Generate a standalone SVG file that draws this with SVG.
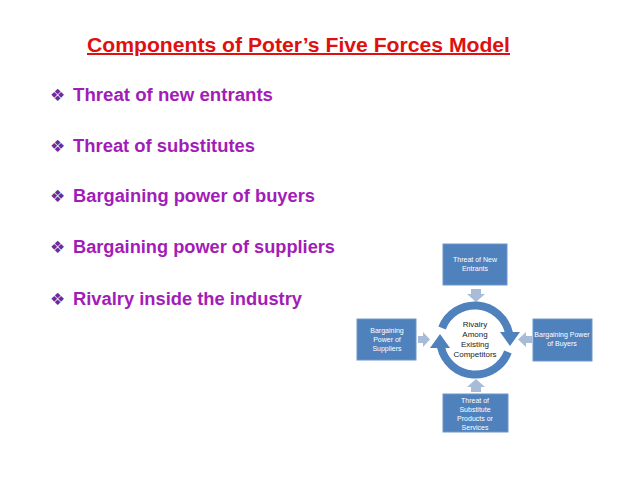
<svg xmlns="http://www.w3.org/2000/svg" width="638" height="478" viewBox="0 0 638 478">
<style>
.b{font-family:"Liberation Sans",Arial,sans-serif;font-weight:bold;font-size:18px;fill:#A21CB8}
.d{font-family:"DejaVu Sans",sans-serif;font-size:17px;fill:#6A2C9C}
.box{fill:#4F81BD;stroke:#6F95C8;stroke-width:1}
.bt{font-family:"Liberation Sans",Arial,sans-serif;font-size:7px;fill:#fff;text-anchor:middle}
.sa{fill:#A8BCD8}
.ct{font-family:"Liberation Sans",Arial,sans-serif;font-size:8px;fill:#222;text-anchor:middle}
</style>
<rect width="638" height="478" fill="#fff"/>
<text x="87" y="52" textLength="423" lengthAdjust="spacingAndGlyphs" font-family="Liberation Sans,Arial,sans-serif" font-weight="bold" font-size="20" fill="#E01010" text-decoration="underline">Components of Poter’s Five Forces Model</text>
<g id="list">
<text class="d" x="50" y="101">❖</text><text class="b" x="73" y="101" textLength="200" lengthAdjust="spacingAndGlyphs">Threat of new entrants</text>
<text class="d" x="50" y="152">❖</text><text class="b" x="73" y="152" textLength="182" lengthAdjust="spacingAndGlyphs">Threat of substitutes</text>
<text class="d" x="50" y="202">❖</text><text class="b" x="73" y="202" textLength="242" lengthAdjust="spacingAndGlyphs">Bargaining power of buyers</text>
<text class="d" x="50" y="253">❖</text><text class="b" x="73" y="253" textLength="262" lengthAdjust="spacingAndGlyphs">Bargaining power of suppliers</text>
<text class="d" x="50" y="305">❖</text><text class="b" x="73" y="305" textLength="229" lengthAdjust="spacingAndGlyphs">Rivalry inside the industry</text>
</g>
<g id="top"><rect class="box" x="443" y="244" width="64" height="41"/><text class="bt" x="475" y="262">Threat of New</text><text class="bt" x="475" y="271">Entrants</text></g>
<g id="left"><rect class="box" x="357" y="319" width="59" height="41"/><text class="bt" x="387" y="333">Bargaining</text><text class="bt" x="387" y="342">Power of</text><text class="bt" x="387" y="351">Suppliers</text></g>
<g id="right"><rect class="box" x="533" y="319" width="59" height="42"/><text class="bt" x="562" y="337">Bargaining Power</text><text class="bt" x="562" y="346">of Buyers</text></g>
<g id="bottom"><rect class="box" x="443" y="394" width="65" height="38"/><text class="bt" x="475" y="403">Threat of</text><text class="bt" x="475" y="412">Substitute</text><text class="bt" x="475" y="421">Products or</text><text class="bt" x="475" y="430">Services</text></g>
<g id="center"><text class="ct" x="475" y="327">Rivalry</text><text class="ct" x="475" y="337">Among</text><text class="ct" x="475" y="347">Existing</text><text class="ct" x="475" y="357">Competitors</text></g>
<g id="connectors">
<polygon class="sa" points="471,289 481,289 481,294 485,294 476,302 467,294 471,294"/>
<polygon class="sa" points="418,336 423,336 423,332 430,339.5 423,347 423,343 418,343"/>
<polygon class="sa" points="532,336 526,336 526,332 518,339.5 526,347 526,343 532,343"/>
<polygon class="sa" points="471,392 481,392 481,387 485,387 476,379 467,387 471,387"/>
<path d="M442.1,328 A35 35 0 0 1 509,333" fill="none" stroke="#4F81BD" stroke-width="8"/>
<polygon points="500,332 520,332 510,346" fill="#4F81BD"/>
<path d="M507.9,352 A35 35 0 0 1 441,347" fill="none" stroke="#4F81BD" stroke-width="8"/>
<polygon points="430,348 450,348 440,334" fill="#4F81BD"/>
</g>
</svg>
